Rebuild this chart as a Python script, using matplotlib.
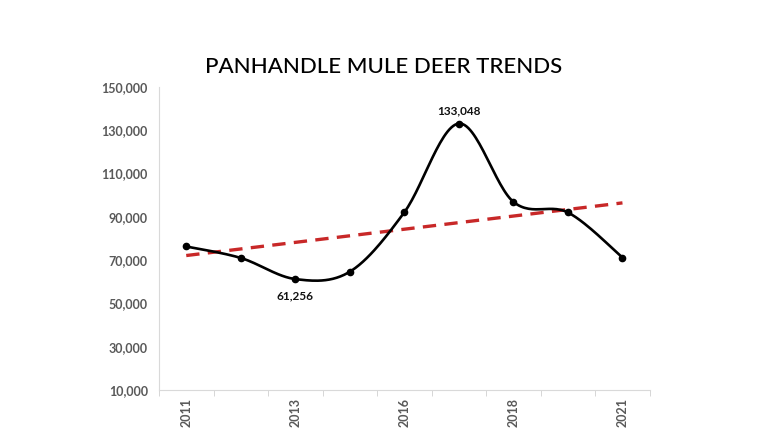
import numpy as np
import matplotlib
matplotlib.use("Agg")
import matplotlib.pyplot as plt

title = "PANHANDLE MULE DEER TRENDS"
tick_labels = ["2011", "", "2013", "", "2016", "", "2018", "", "2021"]
values = [76300, 71000, 61256, 64650, 92100, 133048, 96900, 92000, 71200]
labelled = {2: "61,256", 5: "133,048"}
y_ticks = [10000, 30000, 50000, 70000, 90000, 110000, 130000, 150000]

plt.rcParams['font.family'] = ['Lato', 'DejaVu Sans']

def smooth(xs, ys, n=30):
    # Catmull-Rom style Bezier smoothing (similar to spreadsheet smoothed lines)
    xs = np.asarray(xs, float); ys = np.asarray(ys, float)
    px = np.concatenate([[xs[0]], xs, [xs[-1]]])
    py = np.concatenate([[ys[0]], ys, [ys[-1]]])
    outx, outy = [], []
    for i in range(1, len(px) - 2):
        p0 = np.array([px[i - 1], py[i - 1]]); p1 = np.array([px[i], py[i]])
        p2 = np.array([px[i + 1], py[i + 1]]); p3 = np.array([px[i + 2], py[i + 2]])
        c1 = p1 + (p2 - p0) / 6.0
        c2 = p2 - (p3 - p1) / 6.0
        t = np.linspace(0, 1, n)[:, None]
        b = (1 - t) ** 3 * p1 + 3 * (1 - t) ** 2 * t * c1 + 3 * (1 - t) * t ** 2 * c2 + t ** 3 * p2
        outx.extend(b[:, 0]); outy.extend(b[:, 1])
    return np.array(outx), np.array(outy)

x = np.arange(len(values))
fig = plt.figure(figsize=(7.68, 4.32), dpi=100)
ax = fig.add_axes([0.207, 0.097, 0.639, 0.702])

sx, sy = smooth(x, values)
ax.plot(sx, sy, color='black', lw=1.9, zorder=3)
ax.plot(x, values, 'o', color='black', ms=4.5, zorder=4)

coef = np.polyfit(x, values, 1)
tx = np.array([x[0], x[-1]])
ax.plot(tx, np.polyval(coef, tx), color='#c82828', lw=2.4, ls=(0, (4, 2.5)), zorder=2)

for i, txt in labelled.items():
    off = -12 if i == 2 else 9
    ax.annotate(txt, (x[i], values[i]), xytext=(0, off), textcoords='offset points',
                ha='center', va='center', fontsize=8.5, fontweight='bold', color='#111111')

ax.set_xlim(-0.5, len(values) - 0.5)
ax.set_ylim(10000, 150000)
ax.set_yticks(y_ticks)
ax.set_yticklabels([f"{v:,}" for v in y_ticks], fontsize=9, fontweight='bold', color='#595959')
ax.set_xticks(x)
ax.set_xticklabels(tick_labels, rotation=90, fontsize=9, fontweight='bold', color='#595959')
ax.tick_params(axis='x', length=0, pad=6)
ax.tick_params(axis='y', length=0, pad=8)
ax.set_xticks(np.arange(-0.5, len(values), 1.0), minor=True)
ax.tick_params(axis='x', which='minor', length=4, color='#d0d0d0')

for s in ['top', 'right']:
    ax.spines[s].set_visible(False)
for s in ['left', 'bottom']:
    ax.spines[s].set_color('#d9d9d9')
    ax.spines[s].set_linewidth(0.8)

fig.text(0.5, 1 - 67 / 432, title, ha='center', va='center', fontsize=16,
         fontweight='medium', color='black')

fig.savefig("out.png", dpi=100)
